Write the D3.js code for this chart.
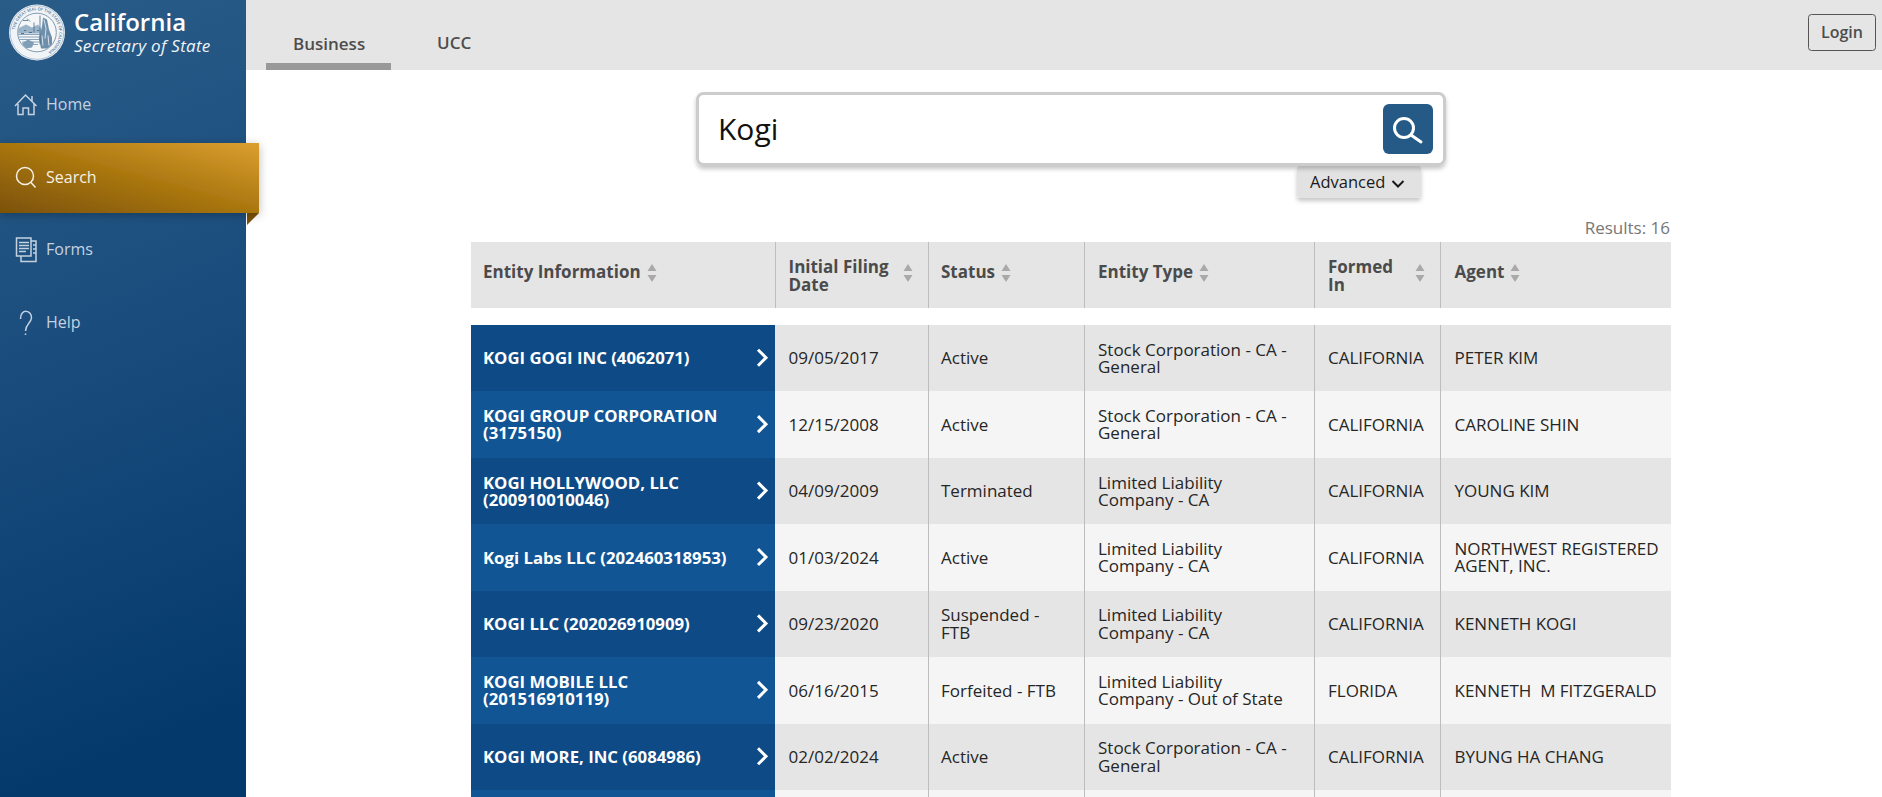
<!DOCTYPE html>
<html>
<head>
<meta charset="utf-8">
<title>California Secretary of State - Search</title>
<script src="https://cdn.jsdelivr.net/npm/d3@7"></script>
<style>
  html, body { margin: 0; padding: 0; background: #fff; overflow: hidden; }
  svg { display: block; font-family: "Open Sans", sans-serif; }
  text { white-space: pre; }
</style>
</head>
<body>
<svg id="page" width="1882" height="797"></svg>
<script>
// table contents, "\n" is where the page wraps the cell
const columns = ["Entity Information", "Initial Filing\nDate", "Status", "Entity Type", "Formed\nIn", "Agent"];
const entities = [
  "KOGI GOGI INC (4062071)",
  "KOGI GROUP CORPORATION\n(3175150)",
  "KOGI HOLLYWOOD, LLC\n(200910010046)",
  "Kogi Labs LLC (202460318953)",
  "KOGI LLC (202026910909)",
  "KOGI MOBILE LLC\n(201516910119)",
  "KOGI MORE, INC (6084986)"
];
const filingDates = ["09/05/2017", "12/15/2008", "04/09/2009", "01/03/2024", "09/23/2020", "06/16/2015", "02/02/2024"];
const statuses = ["Active", "Active", "Terminated", "Active", "Suspended -\nFTB", "Forfeited - FTB", "Active"];
const entityTypes = [
  "Stock Corporation - CA -\nGeneral",
  "Stock Corporation - CA -\nGeneral",
  "Limited Liability\nCompany - CA",
  "Limited Liability\nCompany - CA",
  "Limited Liability\nCompany - CA",
  "Limited Liability\nCompany - Out of State",
  "Stock Corporation - CA -\nGeneral"
];
const formedIn = ["CALIFORNIA", "CALIFORNIA", "CALIFORNIA", "CALIFORNIA", "CALIFORNIA", "FLORIDA", "CALIFORNIA"];
const agents = [
  "PETER KIM",
  "CAROLINE SHIN",
  "YOUNG KIM",
  "NORTHWEST REGISTERED\nAGENT, INC.",
  "KENNETH KOGI",
  "KENNETH  M FITZGERALD",
  "BYUNG HA CHANG"
];
const resultCount = 16;
const navItems = ["Home", "Search", "Forms", "Help"];
const tabs = ["Business", "UCC"];

const svg = d3.select("#page");
const defs = svg.append("defs");

function gradient(id, x1, y1, x2, y2, stops) {
  const g = defs.append("linearGradient").attr("id", id)
    .attr("x1", x1).attr("y1", y1).attr("x2", x2).attr("y2", y2);
  stops.forEach(s => g.append("stop").attr("offset", s[0]).attr("stop-color", s[1]));
}
gradient("sideGrad", 0, 0, 0.12, 1, [[0, "#2a5c88"], [0.55, "#174a7b"], [1, "#04396c"]]);
gradient("goldGrad", 0, 1, 1, 0, [[0, "#7b5206"], [0.5, "#a9760f"], [1, "#db9f2f"]]);

function shadow(id, dy, blur, op) {
  defs.append("filter").attr("id", id)
    .attr("x", "-10%").attr("y", "-30%").attr("width", "120%").attr("height", "170%")
    .append("feDropShadow").attr("dx", 0).attr("dy", dy)
    .attr("stdDeviation", blur).attr("flood-color", "#000").attr("flood-opacity", op);
}
shadow("goldShadow", 2, 5, 0.28);
shadow("boxShadow", 3, 2, 0.22);

// multi line cell text, lines centred on y
function cellText(sel, lineHeight) {
  sel.each(function (d) {
    const lines = d.text.split("\n");
    const t = d3.select(this);
    lines.forEach((l, i) => {
      t.append("tspan").attr("x", d.x)
        .attr("y", d.y + (i - (lines.length - 1) / 2) * lineHeight)
        .text(l);
    });
  });
}

// ---- sidebar
const side = svg.append("g");
side.append("rect").attr("width", 246).attr("height", 797).attr("fill", "url(#sideGrad)");

// seal, mostly white line work at this size
const seal = side.append("g").attr("transform", "translate(37,32.5)");
seal.append("circle").attr("r", 28).attr("fill", "#f1f4f7");
seal.append("circle").attr("r", 26.8).attr("fill", "none").attr("stroke", "#6c8dab").attr("stroke-width", 0.5);
seal.append("circle").attr("r", 19.3).attr("fill", "#f4f6f8").attr("stroke", "#4f7797").attr("stroke-width", 0.7);
defs.append("path").attr("id", "sealArc").attr("d", "M-22.3,0 A22.3,22.3 0 1 1 22.3,0 A22.3,22.3 0 1 1 -22.3,0");
seal.append("text").attr("font-size", 4).attr("font-weight", 600).attr("fill", "#4f7797")
  .append("textPath").attr("href", "#sealArc").attr("startOffset", "2%")
  .text("THE GREAT SEAL OF THE STATE OF CALIFORNIA");
const sealClip = defs.append("clipPath").attr("id", "sealClip");
sealClip.append("circle").attr("r", 19);
const sealArt = seal.append("g").attr("clip-path", "url(#sealClip)");
sealArt.append("path").attr("d", "M-19,-4 L-11,-8 L-5,-5 L1,-8 L4,-4 V1 H-19 Z").attr("fill", "#9db4c8");
sealArt.append("path").attr("d", "M-19,2 H5 M-19,4.5 H4 M-18,7 H3 M-15,9.5 H2 M-11,12 H1")
  .attr("stroke", "#6f90ac").attr("stroke-width", 0.8);
sealArt.append("path").attr("d", "M6,-15 L10,-13 L12,-3 L15,5 L15,16 L4,16 L2,6 L5,-6 Z").attr("fill", "#6d8fab");
sealArt.append("path").attr("d", "M7,-13 L9,-4 L8,6 M11,3 L12,13 M5,3 L6,13")
  .attr("fill", "none").attr("stroke", "#f4f6f8").attr("stroke-width", 0.8);
sealArt.append("path").attr("d", "M3,-17 V12 M-3,-10 V0 M-14,-12 H-9 M-10,-14 L-7,-11")
  .attr("stroke", "#41698a").attr("stroke-width", 0.8);
sealArt.append("path").attr("d", "M-15,11 L-9,7 L-3,10 L-5,15 L-12,16 Z").attr("fill", "#7f9db6");
sealArt.append("path").attr("d", "M-13,-2 h2 M-8,0 h3 M-16,1 h3 M0,-2 h2")
  .attr("stroke", "#34607f").attr("stroke-width", 0.8);

side.append("text").attr("x", 74).attr("y", 31).attr("font-size", 24).attr("font-weight", 600)
  .attr("fill", "#fff").text("California");
side.append("text").attr("x", 74).attr("y", 52).attr("font-size", 17).attr("font-style", "italic")
  .attr("letter-spacing", 0.3).attr("fill", "#f0f4f8").text("Secretary of State");

// the active item hangs over the sidebar edge
side.append("path").attr("d", "M247,213 H259 L247,225 Z").attr("fill", "#7b5206");
side.append("rect").attr("x", 0).attr("y", 143).attr("width", 259).attr("height", 70)
  .attr("fill", "url(#goldGrad)").attr("filter", "url(#goldShadow)");

const navY = d3.scalePoint().domain(navItems).range([110, 328]);
side.selectAll(".nav").data(navItems).join("text")
  .attr("class", "nav")
  .attr("x", 46).attr("y", d => navY(d))
  .attr("font-size", 16)
  .attr("fill", d => d === "Search" ? "#f6f1e6" : "#c4d2e0")
  .text(d => d);

const navIcons = [
  { stroke: "#c4d2e0", d: "M15,106 L25.5,95 L36.5,106 M32,96 V101 M18,104 V114.5 H23 V108 H28.5 V114.5 H34 V104" },
  { stroke: "#f6f1e6", d: "M33.5,176 A8.5,8.5 0 1 1 16.5,176 A8.5,8.5 0 1 1 33.5,176 M31,182.5 L35.5,187.5" },
  { stroke: "#c4d2e0", d: "M16.5,238 H31 V256 H16.5 Z M19,242.5 H29 M19,245.5 H29 M19,248.5 H29 M19,251.5 H26 M31,241 H36 V261.5 H21 V256 M33,245 H36 M33,249 H36 M33,253 H36" },
  { stroke: "#c4d2e0", d: "M20.5,319 C20.5,308 32,310 31.5,318 C31,323 25.5,324 25.5,331 M25.5,333.5 V335" }
];
side.selectAll(".navIcon").data(navIcons).join("path")
  .attr("class", "navIcon").attr("d", d => d.d)
  .attr("fill", "none").attr("stroke", d => d.stroke).attr("stroke-width", 1.5);

// ---- top bar
const topBar = svg.append("g");
topBar.append("rect").attr("x", 246).attr("width", 1636).attr("height", 70).attr("fill", "#e5e5e5");
topBar.append("rect").attr("x", 266).attr("y", 63).attr("width", 125).attr("height", 7).attr("fill", "#999");
const tabX = d3.scaleOrdinal().domain(tabs).range([293, 437]);
topBar.selectAll(".tab").data(tabs).join("text")
  .attr("class", "tab")
  .attr("x", d => tabX(d)).attr("y", d => d === "UCC" ? 49 : 50)
  .attr("font-size", 17).attr("font-weight", 600).attr("fill", "#4d4d4d")
  .text(d => d);
topBar.append("rect").attr("x", 1808.5).attr("y", 14.5).attr("width", 67).attr("height", 36).attr("rx", 3)
  .attr("fill", "none").attr("stroke", "#555");
topBar.append("text").attr("x", 1842).attr("y", 38).attr("text-anchor", "middle")
  .attr("font-size", 16).attr("font-weight", 600).attr("fill", "#4d4d4d").text("Login");

// ---- search box
const search = svg.append("g");
search.append("rect").attr("x", 1297).attr("y", 166).attr("width", 124).attr("height", 32).attr("rx", 3)
  .attr("fill", "#e2e2e2").attr("filter", "url(#boxShadow)");
search.append("text").attr("x", 1310).attr("y", 188).attr("font-size", 16.5).attr("fill", "#1a1a1a").text("Advanced");
search.append("path").attr("d", "M1392.5,181 L1398,186.5 L1403.5,181")
  .attr("fill", "none").attr("stroke", "#1a1a1a").attr("stroke-width", 2);
search.append("rect").attr("x", 697.5).attr("y", 93.5).attr("width", 747).attr("height", 71).attr("rx", 6)
  .attr("fill", "#fff").attr("stroke", "#ccc").attr("stroke-width", 3).attr("filter", "url(#boxShadow)");
search.append("text").attr("x", 718).attr("y", 140).attr("font-size", 30).attr("fill", "#111").text("Kogi");
search.append("rect").attr("x", 1383).attr("y", 104).attr("width", 50).attr("height", 50).attr("rx", 6).attr("fill", "#265a86");
search.append("circle").attr("cx", 1404).attr("cy", 128).attr("r", 9.5)
  .attr("fill", "none").attr("stroke", "#fff").attr("stroke-width", 3);
search.append("path").attr("d", "M1411,135 L1421,142")
  .attr("stroke", "#fff").attr("stroke-width", 3).attr("stroke-linecap", "round");

svg.append("text").attr("x", 1670).attr("y", 234).attr("text-anchor", "end")
  .attr("font-size", 17).attr("fill", "#777").text("Results: " + resultCount);

// ---- table
const colEdges = [471, 775, 928, 1084, 1314, 1440, 1671];
const colX = d3.scaleOrdinal().domain(columns).range(colEdges.slice(0, 6));
const sortX = d3.scaleOrdinal().domain(columns).range([652, 908, 1006, 1204, 1420, 1515]);
const textPad = [12, 13.5, 13, 14, 14, 14.5];
const rowY = d3.scaleBand().domain(d3.range(resultCount)).range([325, 325 + 66.43 * resultCount]);
const table = svg.append("g");

// header
table.append("rect").attr("x", 471).attr("y", 242).attr("width", 1200).attr("height", 66).attr("fill", "#e5e5e5");
table.selectAll(".head").data(columns).join("text")
  .attr("class", "head")
  .attr("font-size", 17).attr("font-weight", 700).attr("fill", "#4b4b4b")
  .datum((d, i) => ({ text: d, x: colX(d) + textPad[i], y: d.includes("\n") ? 282 : 278 }))
  .call(cellText, 17.3);
table.selectAll(".sortUp").data(columns).join("path")
  .attr("class", "sortUp")
  .attr("d", d => `M${sortX(d) - 4.5},271 L${sortX(d)},264 L${sortX(d) + 4.5},271 Z`)
  .attr("fill", "#a9a9a9");
table.selectAll(".sortDown").data(columns).join("path")
  .attr("class", "sortDown")
  .attr("d", d => `M${sortX(d) - 4.5},275 L${sortX(d)},282 L${sortX(d) + 4.5},275 Z`)
  .attr("fill", "#a9a9a9");

// row stripes, the list runs on below the fold
table.selectAll(".stripe").data(rowY.domain()).join("rect")
  .attr("class", "stripe")
  .attr("x", 775).attr("y", d => rowY(d)).attr("width", 896).attr("height", rowY.bandwidth())
  .attr("shape-rendering", "crispEdges")
  .attr("fill", d => d % 2 ? "#f5f5f5" : "#e5e5e5");
table.selectAll(".entityCell").data(rowY.domain()).join("rect")
  .attr("class", "entityCell")
  .attr("x", 471).attr("y", d => rowY(d)).attr("width", 304).attr("height", rowY.bandwidth())
  .attr("shape-rendering", "crispEdges")
  .attr("fill", d => d % 2 ? "#115595" : "#0e4a85");

// column rules
table.selectAll(".ruleHead").data(colEdges.slice(1, 6)).join("line")
  .attr("class", "ruleHead")
  .attr("x1", d => d + 0.5).attr("x2", d => d + 0.5).attr("y1", 242).attr("y2", 308)
  .attr("stroke", "#bdbdbd");
table.selectAll(".ruleBody").data(colEdges.slice(2, 6)).join("line")
  .attr("class", "ruleBody")
  .attr("x1", d => d + 0.5).attr("x2", d => d + 0.5).attr("y1", 325).attr("y2", 797)
  .attr("stroke", "#bdbdbd");

const rowCols = [entities, filingDates, statuses, entityTypes, formedIn, agents];
rowCols.forEach((values, c) => {
  table.selectAll(".col" + c).data(values).join("text")
    .attr("class", "col" + c)
    .attr("font-size", c === 0 ? 16.75 : 17)
    .attr("font-weight", c === 0 ? 700 : 400)
    .attr("fill", c === 0 ? "#fff" : "#262626")
    .datum((d, i) => ({
      text: d,
      x: colX(columns[c]) + textPad[c],
      y: rowY(i) + rowY.bandwidth() / 2 + 6.2
    }))
    .call(cellText, 17.3);
});

table.selectAll(".chevron").data(entities).join("path")
  .attr("class", "chevron")
  .attr("d", (d, i) => {
    const m = rowY(i) + rowY.bandwidth() / 2 - 0.5;
    return d3.line()([[758, m - 8], [766, m], [758, m + 8]]);
  })
  .attr("fill", "none").attr("stroke", "#fff").attr("stroke-width", 3);
</script>
</body>
</html>
